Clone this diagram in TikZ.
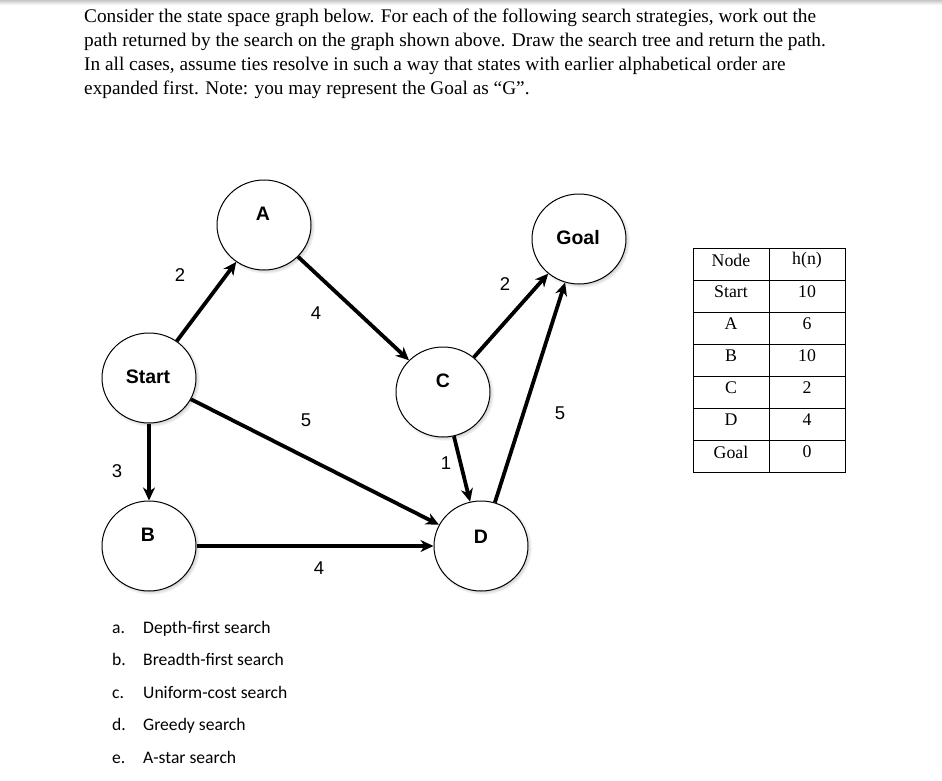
\documentclass[tikz,border=0pt]{standalone}
\usepackage{fontspec}
\setmainfont{Liberation Serif}
\newfontfamily\graphfont{Liberation Sans}
\newfontfamily\listfont{Carlito}
\usetikzlibrary{arrows.meta,shapes.geometric,shadows,fadings}
\begin{document}
\begin{tikzpicture}[x=1pt,y=-1pt,
  state/.style={ellipse, draw=black, line width=1pt, fill=white,
    minimum width=94pt, minimum height=90pt, inner sep=0pt,
    circular drop shadow={shadow xshift=1.5pt, shadow yshift=-1.5pt, shadow scale=1.05, opacity=0.55}},
  slabel/.style={font=\graphfont\bfseries\fontsize{19.5}{20}\selectfont},
  wedge/.style={line width=3.8pt, -{Stealth[length=13pt,width=12pt,inset=4pt]}},
  wlabel/.style={font=\graphfont\fontsize{18.5}{19}\selectfont},
  para/.style={anchor=base west, font=\fontsize{19.3}{24}\selectfont, inner sep=0pt},
  cell/.style={font=\fontsize{17.8}{18}\selectfont, inner sep=0pt},
  item/.style={anchor=base west, font=\listfont\fontsize{17.6}{18}\selectfont, inner sep=0pt}
]
\useasboundingbox (0,0) rectangle (942,781);
\fill[white] (0,0) rectangle (942,781);
\shade[top color=gray!45, bottom color=white] (0,0) rectangle (942,5);

% paragraph
\node[para] (p1) at (84,23) {Consider the state space graph below. For each of the following search strategies, work out the};
\node[para] (p2) at (84,47) {path returned by the search on the graph shown above. Draw the search tree and return the path.};
\node[para] (p3) at (84,71) {In all cases, assume ties resolve in such a way that states with earlier alphabetical order are};
\node[para] (p4) at (84,95) {expanded first. Note: you may represent the Goal as ``G''.};

% states
\node[state] (A) at (264,225) {};
\node[state] (G) at (579,239) {};
\node[state] (S) at (149,378) {};
\node[state] (C) at (443,392) {};
\node[state] (B) at (149,546) {};
\node[state] (D) at (481,546) {};

\node[slabel] (Al) at (263,214) {A};
\node[slabel] (Gl) at (578,238) {Goal};
\node[slabel] (Sl) at (148,377) {Start};
\node[slabel] (Cl) at (443,381) {C};
\node[slabel] (Bl) at (148,535) {B};
\node[slabel] (Dl) at (481,537) {D};

% edges
\draw[wedge] (S) -- (A);
\draw[wedge] (A) -- (C);
\draw[wedge] (C) -- (G);
\draw[wedge] (D) -- (G);
\draw[wedge] (S) -- (D);
\draw[wedge] (C) -- (D);
\draw[wedge] (S) -- (B);
\draw[wedge] (B) -- (D);

% weights
\node[wlabel] (w1) at (180,275) {2};
\node[wlabel] (w2) at (316,313) {4};
\node[wlabel] (w3) at (505,284) {2};
\node[wlabel] (w4) at (560,413) {5};
\node[wlabel] (w5) at (306,420) {5};
\node[wlabel] (w6) at (446,463) {1};
\node[wlabel] (w7) at (117,471) {3};
\node[wlabel] (w8) at (319,568) {4};

% table
\draw[line width=0.8pt] (693,248) rectangle (845,472);
\draw[line width=0.8pt] (769,248) -- (769,472);
\foreach \yy in {280,312,344,376,408,440} {\draw[line width=0.8pt] (693,\yy) -- (845,\yy);}
\node[cell] (h1) at (731,260) {Node};
\node[cell] (h2) at (807,260) {h(n)};
\node[cell] (r1a) at (731,292) {Start};
\node[cell] (r1b) at (807,292) {10};
\node[cell] (r2a) at (731,324) {A};
\node[cell] (r2b) at (807,324) {6};
\node[cell] (r3a) at (731,356) {B};
\node[cell] (r3b) at (807,356) {10};
\node[cell] (r4a) at (731,388) {C};
\node[cell] (r4b) at (807,388) {2};
\node[cell] (r5a) at (731,420) {D};
\node[cell] (r5b) at (807,420) {4};
\node[cell] (r6a) at (731,452) {Goal};
\node[cell] (r6b) at (807,452) {0};

% list
\node[item] (la) at (112,633) {a.};
\node[item] (lat) at (143,633) {Depth-first search};
\node[item] (lb) at (112,665) {b.};
\node[item] (lbt) at (143,665) {Breadth-first search};
\node[item] (lc) at (112,698) {c.};
\node[item] (lct) at (143,698) {Uniform-cost search};
\node[item] (ld) at (112,730) {d.};
\node[item] (ldt) at (143,730) {Greedy search};
\node[item] (le) at (112,763) {e.};
\node[item] (let) at (143,763) {A-star search};
\end{tikzpicture}
\end{document}
